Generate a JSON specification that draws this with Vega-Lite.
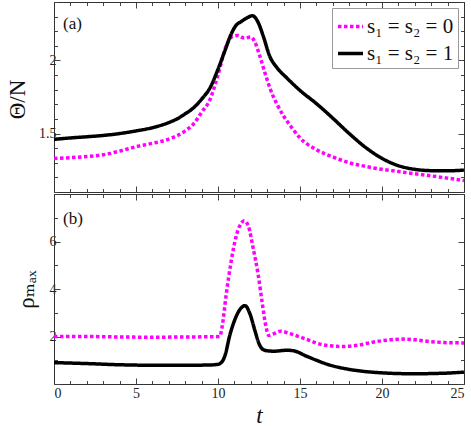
{
  "$schema": "https://vega.github.io/schema/vega-lite/v6.json",
  "background": "white",
  "padding": {"left": 6, "top": 1, "right": 7, "bottom": 2},
  "spacing": 0,
  "config": {
    "font": "Liberation Serif, DejaVu Serif, serif",
    "view": {"stroke": null},
    "text": {"font": "Liberation Serif, DejaVu Serif, serif"},
    "axis": {
      "grid": false,
      "domainColor": "#333",
      "domainWidth": 1,
      "tickColor": "#444",
      "tickWidth": 1,
      "labelFont": "Liberation Serif, DejaVu Serif, serif",
      "labelFontSize": 14,
      "labelColor": "#222",
      "titleFont": "Liberation Serif, DejaVu Serif, serif",
      "titleFontWeight": "normal",
      "titleFontSize": 23,
      "titleColor": "#111"
    },
    "legend": {
      "orient": "top-right",
      "offset": 6,
      "fillColor": "white",
      "strokeColor": "#999",
      "padding": 4,
      "cornerRadius": 0,
      "symbolType": "stroke",
      "symbolSize": 625,
      "symbolStrokeWidth": 3.5,
      "labelFont": "Liberation Serif, DejaVu Serif, serif",
      "labelFontSize": 21,
      "labelColor": "#111",
      "rowPadding": 2,
      "labelOffset": 2
    }
  },
  "datasets": {
    "theta": [
      {"s": "s₁ = s₂ = 0", "t": 0, "v": 1.33},
      {"s": "s₁ = s₂ = 0", "t": 1, "v": 1.335},
      {"s": "s₁ = s₂ = 0", "t": 2, "v": 1.343},
      {"s": "s₁ = s₂ = 0", "t": 3, "v": 1.355},
      {"s": "s₁ = s₂ = 0", "t": 4, "v": 1.38},
      {"s": "s₁ = s₂ = 0", "t": 5, "v": 1.41},
      {"s": "s₁ = s₂ = 0", "t": 6, "v": 1.433},
      {"s": "s₁ = s₂ = 0", "t": 7, "v": 1.462},
      {"s": "s₁ = s₂ = 0", "t": 8, "v": 1.518},
      {"s": "s₁ = s₂ = 0", "t": 8.5, "v": 1.565},
      {"s": "s₁ = s₂ = 0", "t": 9, "v": 1.645},
      {"s": "s₁ = s₂ = 0", "t": 9.5, "v": 1.73},
      {"s": "s₁ = s₂ = 0", "t": 10, "v": 1.9},
      {"s": "s₁ = s₂ = 0", "t": 10.5, "v": 2.1},
      {"s": "s₁ = s₂ = 0", "t": 10.9, "v": 2.165},
      {"s": "s₁ = s₂ = 0", "t": 11.2, "v": 2.17},
      {"s": "s₁ = s₂ = 0", "t": 11.6, "v": 2.153},
      {"s": "s₁ = s₂ = 0", "t": 12, "v": 2.16},
      {"s": "s₁ = s₂ = 0", "t": 12.25, "v": 2.125},
      {"s": "s₁ = s₂ = 0", "t": 12.55, "v": 2.03},
      {"s": "s₁ = s₂ = 0", "t": 12.85, "v": 1.92},
      {"s": "s₁ = s₂ = 0", "t": 13.2, "v": 1.8},
      {"s": "s₁ = s₂ = 0", "t": 13.6, "v": 1.7},
      {"s": "s₁ = s₂ = 0", "t": 14, "v": 1.62},
      {"s": "s₁ = s₂ = 0", "t": 14.5, "v": 1.54},
      {"s": "s₁ = s₂ = 0", "t": 15, "v": 1.47},
      {"s": "s₁ = s₂ = 0", "t": 16, "v": 1.39},
      {"s": "s₁ = s₂ = 0", "t": 17, "v": 1.34},
      {"s": "s₁ = s₂ = 0", "t": 18, "v": 1.3},
      {"s": "s₁ = s₂ = 0", "t": 19, "v": 1.275},
      {"s": "s₁ = s₂ = 0", "t": 20, "v": 1.255},
      {"s": "s₁ = s₂ = 0", "t": 21, "v": 1.24},
      {"s": "s₁ = s₂ = 0", "t": 22, "v": 1.225},
      {"s": "s₁ = s₂ = 0", "t": 23, "v": 1.21},
      {"s": "s₁ = s₂ = 0", "t": 24, "v": 1.195},
      {"s": "s₁ = s₂ = 0", "t": 25, "v": 1.178},
      {"s": "s₁ = s₂ = 1", "t": 0, "v": 1.46},
      {"s": "s₁ = s₂ = 1", "t": 1, "v": 1.47},
      {"s": "s₁ = s₂ = 1", "t": 2, "v": 1.478},
      {"s": "s₁ = s₂ = 1", "t": 3, "v": 1.487},
      {"s": "s₁ = s₂ = 1", "t": 4, "v": 1.5},
      {"s": "s₁ = s₂ = 1", "t": 5, "v": 1.518},
      {"s": "s₁ = s₂ = 1", "t": 6, "v": 1.54},
      {"s": "s₁ = s₂ = 1", "t": 7, "v": 1.575},
      {"s": "s₁ = s₂ = 1", "t": 7.5, "v": 1.6},
      {"s": "s₁ = s₂ = 1", "t": 8, "v": 1.635},
      {"s": "s₁ = s₂ = 1", "t": 8.5, "v": 1.675},
      {"s": "s₁ = s₂ = 1", "t": 9, "v": 1.735},
      {"s": "s₁ = s₂ = 1", "t": 9.5, "v": 1.81},
      {"s": "s₁ = s₂ = 1", "t": 10, "v": 1.94},
      {"s": "s₁ = s₂ = 1", "t": 10.4, "v": 2.06},
      {"s": "s₁ = s₂ = 1", "t": 10.8, "v": 2.18},
      {"s": "s₁ = s₂ = 1", "t": 11.1, "v": 2.24},
      {"s": "s₁ = s₂ = 1", "t": 11.4, "v": 2.265},
      {"s": "s₁ = s₂ = 1", "t": 11.75, "v": 2.29},
      {"s": "s₁ = s₂ = 1", "t": 12.1, "v": 2.306},
      {"s": "s₁ = s₂ = 1", "t": 12.45, "v": 2.26},
      {"s": "s₁ = s₂ = 1", "t": 12.75, "v": 2.17},
      {"s": "s₁ = s₂ = 1", "t": 13.15, "v": 2.03},
      {"s": "s₁ = s₂ = 1", "t": 13.6, "v": 1.95},
      {"s": "s₁ = s₂ = 1", "t": 14.2, "v": 1.88},
      {"s": "s₁ = s₂ = 1", "t": 15, "v": 1.795},
      {"s": "s₁ = s₂ = 1", "t": 16, "v": 1.705},
      {"s": "s₁ = s₂ = 1", "t": 17, "v": 1.605},
      {"s": "s₁ = s₂ = 1", "t": 18, "v": 1.5},
      {"s": "s₁ = s₂ = 1", "t": 19, "v": 1.405},
      {"s": "s₁ = s₂ = 1", "t": 20, "v": 1.33},
      {"s": "s₁ = s₂ = 1", "t": 21, "v": 1.28},
      {"s": "s₁ = s₂ = 1", "t": 22, "v": 1.255},
      {"s": "s₁ = s₂ = 1", "t": 23, "v": 1.246},
      {"s": "s₁ = s₂ = 1", "t": 24, "v": 1.245},
      {"s": "s₁ = s₂ = 1", "t": 25, "v": 1.25}
    ],
    "rho": [
      {"s": "s₁ = s₂ = 0", "t": 0, "v": 2.0},
      {"s": "s₁ = s₂ = 0", "t": 2, "v": 2.0},
      {"s": "s₁ = s₂ = 0", "t": 4, "v": 1.98},
      {"s": "s₁ = s₂ = 0", "t": 6, "v": 1.97},
      {"s": "s₁ = s₂ = 0", "t": 8, "v": 1.98},
      {"s": "s₁ = s₂ = 0", "t": 9.5, "v": 1.99},
      {"s": "s₁ = s₂ = 0", "t": 10.1, "v": 2.0},
      {"s": "s₁ = s₂ = 0", "t": 10.25, "v": 2.4},
      {"s": "s₁ = s₂ = 0", "t": 10.5, "v": 3.77},
      {"s": "s₁ = s₂ = 0", "t": 10.8, "v": 5.15},
      {"s": "s₁ = s₂ = 0", "t": 11.1, "v": 6.2},
      {"s": "s₁ = s₂ = 0", "t": 11.4, "v": 6.75},
      {"s": "s₁ = s₂ = 0", "t": 11.6, "v": 6.87},
      {"s": "s₁ = s₂ = 0", "t": 11.85, "v": 6.65},
      {"s": "s₁ = s₂ = 0", "t": 12.15, "v": 5.7},
      {"s": "s₁ = s₂ = 0", "t": 12.45, "v": 4.6},
      {"s": "s₁ = s₂ = 0", "t": 12.7, "v": 3.4},
      {"s": "s₁ = s₂ = 0", "t": 12.93, "v": 2.4},
      {"s": "s₁ = s₂ = 0", "t": 13.1, "v": 2.04},
      {"s": "s₁ = s₂ = 0", "t": 13.35, "v": 2.1},
      {"s": "s₁ = s₂ = 0", "t": 13.8, "v": 2.22},
      {"s": "s₁ = s₂ = 0", "t": 14.4, "v": 2.12},
      {"s": "s₁ = s₂ = 0", "t": 15, "v": 1.98},
      {"s": "s₁ = s₂ = 0", "t": 15.4, "v": 1.88},
      {"s": "s₁ = s₂ = 0", "t": 16, "v": 1.72},
      {"s": "s₁ = s₂ = 0", "t": 17, "v": 1.6},
      {"s": "s₁ = s₂ = 0", "t": 17.5, "v": 1.58},
      {"s": "s₁ = s₂ = 0", "t": 18.5, "v": 1.63},
      {"s": "s₁ = s₂ = 0", "t": 19.5, "v": 1.77},
      {"s": "s₁ = s₂ = 0", "t": 20.5, "v": 1.86},
      {"s": "s₁ = s₂ = 0", "t": 21.3, "v": 1.89},
      {"s": "s₁ = s₂ = 0", "t": 22, "v": 1.86},
      {"s": "s₁ = s₂ = 0", "t": 22.9, "v": 1.79},
      {"s": "s₁ = s₂ = 0", "t": 24, "v": 1.74},
      {"s": "s₁ = s₂ = 0", "t": 25, "v": 1.73},
      {"s": "s₁ = s₂ = 1", "t": 0, "v": 0.9},
      {"s": "s₁ = s₂ = 1", "t": 2, "v": 0.86},
      {"s": "s₁ = s₂ = 1", "t": 4, "v": 0.81},
      {"s": "s₁ = s₂ = 1", "t": 6, "v": 0.79},
      {"s": "s₁ = s₂ = 1", "t": 8, "v": 0.79},
      {"s": "s₁ = s₂ = 1", "t": 9.5, "v": 0.8},
      {"s": "s₁ = s₂ = 1", "t": 10, "v": 0.83},
      {"s": "s₁ = s₂ = 1", "t": 10.25, "v": 0.94},
      {"s": "s₁ = s₂ = 1", "t": 10.45, "v": 1.25},
      {"s": "s₁ = s₂ = 1", "t": 10.7, "v": 2.0},
      {"s": "s₁ = s₂ = 1", "t": 11, "v": 2.66},
      {"s": "s₁ = s₂ = 1", "t": 11.35, "v": 3.15},
      {"s": "s₁ = s₂ = 1", "t": 11.65, "v": 3.3},
      {"s": "s₁ = s₂ = 1", "t": 11.95, "v": 2.95},
      {"s": "s₁ = s₂ = 1", "t": 12.25, "v": 2.25},
      {"s": "s₁ = s₂ = 1", "t": 12.5, "v": 1.7},
      {"s": "s₁ = s₂ = 1", "t": 12.75, "v": 1.45},
      {"s": "s₁ = s₂ = 1", "t": 13, "v": 1.4},
      {"s": "s₁ = s₂ = 1", "t": 13.4, "v": 1.38},
      {"s": "s₁ = s₂ = 1", "t": 14.2, "v": 1.42},
      {"s": "s₁ = s₂ = 1", "t": 14.6, "v": 1.4},
      {"s": "s₁ = s₂ = 1", "t": 15.4, "v": 1.17},
      {"s": "s₁ = s₂ = 1", "t": 16, "v": 1.0},
      {"s": "s₁ = s₂ = 1", "t": 16.8, "v": 0.8},
      {"s": "s₁ = s₂ = 1", "t": 17.8, "v": 0.64},
      {"s": "s₁ = s₂ = 1", "t": 18.9, "v": 0.53},
      {"s": "s₁ = s₂ = 1", "t": 20, "v": 0.47},
      {"s": "s₁ = s₂ = 1", "t": 21, "v": 0.44},
      {"s": "s₁ = s₂ = 1", "t": 22, "v": 0.43},
      {"s": "s₁ = s₂ = 1", "t": 23, "v": 0.44},
      {"s": "s₁ = s₂ = 1", "t": 24, "v": 0.46},
      {"s": "s₁ = s₂ = 1", "t": 25, "v": 0.5}
    ]
  },
  "resolve": {
    "scale": {"color": "independent", "strokeDash": "independent"},
    "legend": {"color": "independent", "strokeDash": "independent"}
  },
  "vconcat": [
    {
      "width": 410,
      "height": 190,
      "layer": [
        {
          "data": {"name": "theta"},
          "mark": {"type": "line", "strokeWidth": 3.5, "interpolate": "monotone", "strokeCap": "butt"},
          "encoding": {
            "x": {
              "field": "t", "type": "quantitative",
              "scale": {"domain": [0, 25], "nice": false},
              "axis": {
                "orient": "bottom", "title": null, "labels": false,
                "values": [0,1,2,3,4,5,6,7,8,9,10,11,12,13,14,15,16,17,18,19,20,21,22,23,24,25],
                "tickSize": {"condition": {"test": "datum.value % 5 === 0", "value": -6}, "value": -3.5}
              }
            },
            "y": {
              "field": "v", "type": "quantitative",
              "scale": {"domain": [1.1, 2.4], "nice": false, "zero": false},
              "axis": {
                "orient": "left", "title": "Θ/N", "format": "~g",
                "values": [1.1,1.2,1.3,1.4,1.5,1.6,1.7,1.8,1.9,2.0,2.1,2.2,2.3,2.4],
                "labelExpr": "abs(datum.value * 2 - round(datum.value * 2)) < 0.01 ? datum.label : ''",
                "tickSize": {"condition": {"test": "abs(datum.value * 2 - round(datum.value * 2)) < 0.01", "value": -6}, "value": -3.5},
                "labelPadding": 4,
                "titleX": -37, "titleY": 97, "titleAngle": -90, "titleBaseline": "middle", "titleAlign": "center"
              }
            },
            "color": {
              "field": "s", "type": "nominal", "title": null,
              "scale": {"domain": ["s₁ = s₂ = 0", "s₁ = s₂ = 1"], "range": ["#ff00ff", "#000000"]}
            },
            "strokeDash": {
              "field": "s", "type": "nominal", "title": null,
              "scale": {"domain": ["s₁ = s₂ = 0", "s₁ = s₂ = 1"], "range": [[3.5, 2.5], [1, 0]]}
            }
          }
        },
        {
          "data": {"values": [{"t": 0.55, "v": 2.25, "label": "(a)"}]},
          "mark": {"type": "text", "align": "left", "baseline": "middle", "fontSize": 17, "color": "#111"},
          "encoding": {
            "x": {
              "field": "t", "type": "quantitative",
              "scale": {"domain": [0, 25], "nice": false},
              "axis": {
                "orient": "top", "title": null, "labels": false,
                "values": [0,1,2,3,4,5,6,7,8,9,10,11,12,13,14,15,16,17,18,19,20,21,22,23,24,25],
                "tickSize": {"condition": {"test": "datum.value % 5 === 0", "value": -6}, "value": -3.5}
              }
            },
            "y": {
              "field": "v", "type": "quantitative",
              "scale": {"domain": [1.1, 2.4], "nice": false, "zero": false},
              "axis": {
                "orient": "right", "title": null, "labels": false,
                "values": [1.1,1.2,1.3,1.4,1.5,1.6,1.7,1.8,1.9,2.0,2.1,2.2,2.3,2.4],
                "tickSize": {"condition": {"test": "abs(datum.value * 2 - round(datum.value * 2)) < 0.01", "value": -6}, "value": -3.5}
              }
            },
            "text": {"field": "label"}
          }
        }
      ],
      "resolve": {"axis": {"x": "independent", "y": "independent"}}
    },
    {
      "width": 410,
      "height": 190,
      "layer": [
        {
          "data": {"name": "rho"},
          "mark": {"type": "line", "strokeWidth": 3.5, "interpolate": "monotone", "strokeCap": "butt"},
          "encoding": {
            "x": {
              "field": "t", "type": "quantitative",
              "scale": {"domain": [0, 25], "nice": false},
              "axis": {
                "orient": "bottom", "title": "t", "titleFontStyle": "italic", "format": "d",
                "values": [0,1,2,3,4,5,6,7,8,9,10,11,12,13,14,15,16,17,18,19,20,21,22,23,24,25],
                "labelExpr": "datum.value % 5 === 0 ? datum.label : ''",
                "tickSize": {"condition": {"test": "datum.value % 5 === 0", "value": -6}, "value": -3.5},
                "labelPadding": 8,
                "titlePadding": 4
              }
            },
            "y": {
              "field": "v", "type": "quantitative",
              "scale": {"domain": [0, 8], "nice": false},
              "axis": {
                "orient": "left", "title": "ρₘₐₓ", "format": "d",
                "values": [0,1,2,3,4,5,6,7,8],
                "labelExpr": "datum.value % 2 === 0 && datum.value > 0 && datum.value < 8 ? datum.label : ''",
                "tickSize": {"condition": {"test": "datum.value % 2 === 0", "value": -6}, "value": -3.5},
                "labelPadding": 4,
                "titleX": -28, "titleY": 95, "titleAngle": -90, "titleBaseline": "middle", "titleAlign": "center"
              }
            },
            "color": {
              "field": "s", "type": "nominal", "legend": null,
              "scale": {"domain": ["s₁ = s₂ = 0", "s₁ = s₂ = 1"], "range": ["#ff00ff", "#000000"]}
            },
            "strokeDash": {
              "field": "s", "type": "nominal", "legend": null,
              "scale": {"domain": ["s₁ = s₂ = 0", "s₁ = s₂ = 1"], "range": [[3.5, 2.5], [1, 0]]}
            }
          }
        },
        {
          "data": {"values": [{"t": 0.55, "v": 6.95, "label": "(b)"}]},
          "mark": {"type": "text", "align": "left", "baseline": "middle", "fontSize": 17, "color": "#111"},
          "encoding": {
            "x": {
              "field": "t", "type": "quantitative",
              "scale": {"domain": [0, 25], "nice": false},
              "axis": {
                "orient": "top", "title": null, "labels": false,
                "values": [0,1,2,3,4,5,6,7,8,9,10,11,12,13,14,15,16,17,18,19,20,21,22,23,24,25],
                "tickSize": {"condition": {"test": "datum.value % 5 === 0", "value": -6}, "value": -3.5}
              }
            },
            "y": {
              "field": "v", "type": "quantitative",
              "scale": {"domain": [0, 8], "nice": false},
              "axis": {
                "orient": "right", "title": null, "labels": false,
                "values": [0,1,2,3,4,5,6,7,8],
                "tickSize": {"condition": {"test": "datum.value % 2 === 0", "value": -6}, "value": -3.5}
              }
            },
            "text": {"field": "label"}
          }
        }
      ],
      "resolve": {"axis": {"x": "independent", "y": "independent"}}
    }
  ]
}
